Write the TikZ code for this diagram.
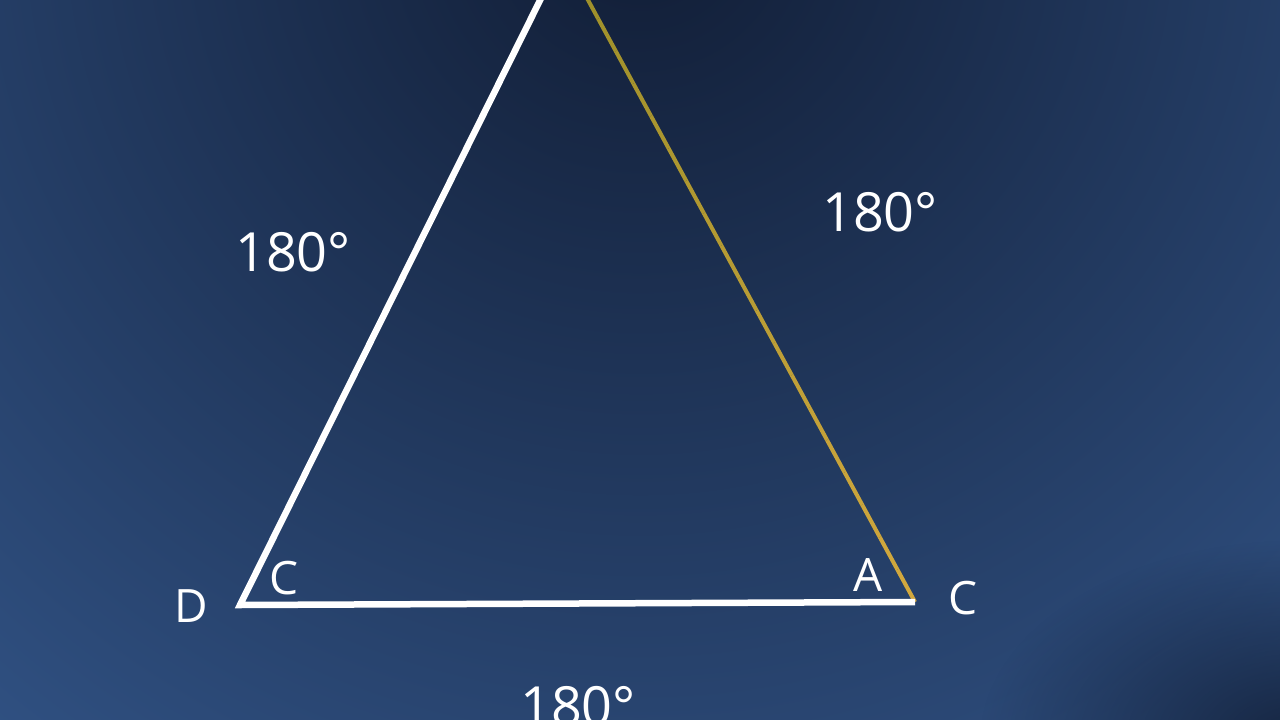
\documentclass[tikz,border=0pt]{standalone}
\usepackage{fontspec}
\setmainfont{Open Sans}
\usetikzlibrary{calc,fadings}
\definecolor{bgtop}{HTML}{111D35}
\definecolor{bgbot}{HTML}{33568A}
\definecolor{bgdark}{HTML}{0F1A30}
\definecolor{goldtop}{HTML}{9C8F2A}
\definecolor{goldbot}{HTML}{D2A83E}
\tikzfading[name=softcirc, inner color=transparent!0, outer color=transparent!100]
\tikzset{
  lbl/.style={text=white, inner sep=0pt, font=\fontsize{46}{46}\selectfont},
  deg/.style={text=white, inner sep=0pt, font=\fontsize{54}{54}\selectfont},
  whiteedge/.style={white, line width=6.5pt, line cap=butt, line join=miter},
}
\begin{document}
\begin{tikzpicture}[x=1pt,y=-1pt]
\useasboundingbox (0,0) rectangle (1280,720);
\clip (0,0) rectangle (1280,720);
% background
\fill[bgbot] (0,0) rectangle (1280,720);
\shade[inner color=bgtop, outer color=bgbot] (640,-80) circle (1150);
\fill[bgdark, opacity=0.8, path fading=softcirc]
  (1300,740) ellipse (320 and 200);
% vertices
\coordinate (T) at (563,-46);
\coordinate (D) at (240,605);
\coordinate (C) at (915,602);
% gold edge in gradient segments
\foreach \i in {0,...,19}{
  \pgfmathsetmacro{\a}{\i/20}
  \pgfmathsetmacro{\b}{(\i+1)/20}
  \pgfmathsetmacro{\p}{100*\i/19}
  \draw[goldbot!\p!goldtop, line width=4pt] ($(T)!\a!(C)$) -- ($(T)!\b!(C)$);
}
% white edges
\draw[whiteedge] (T) -- (D) -- (C);
% labels
\node[lbl] (lD) at (191,606) {D};
\node[lbl] (lC1) at (284,578) {C};
\node[lbl] (lA) at (868,575) {A};
\node[lbl] (lC2) at (963,598) {C};
\node[deg] (d1) at (293,252) {180°};
\node[deg] (d2) at (880,212) {180°};
\node[deg] (d3) at (578,706) {180°};
\end{tikzpicture}
\end{document}
